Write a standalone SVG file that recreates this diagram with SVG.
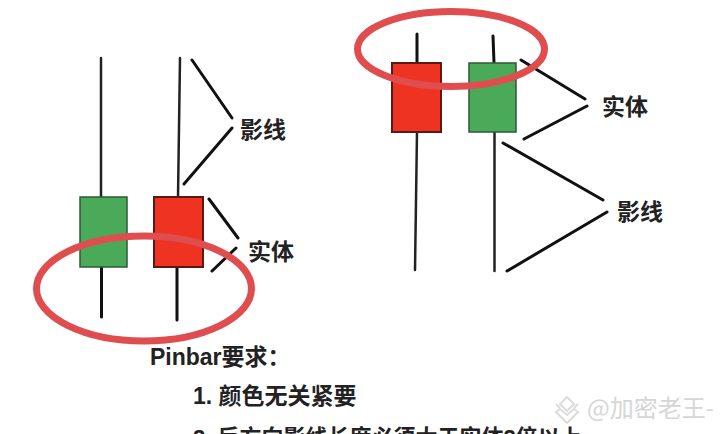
<svg xmlns="http://www.w3.org/2000/svg" width="720" height="434" viewBox="0 0 720 434">
<style>
text{font-family:"Liberation Sans","Noto Sans CJK SC",sans-serif;fill:#222;font-weight:bold}
.lbl{font-size:23px}
.req{font-size:22px}
.req1{font-size:23px}
.w{fill:none;stroke:#111;stroke-width:3;stroke-linecap:round}
.t{fill:none;stroke:#222;stroke-width:2.500;stroke-linecap:round}
.g{fill:#4aaa5a;stroke:#2c5a38;stroke-width:1.5}
.r{fill:#ee3322;stroke:#5a1a14;stroke-width:2}
.e{fill:none;stroke:#e04d4f;stroke-width:7}
.m{font-family:"Noto Sans CJK SC",sans-serif;font-weight:normal;font-size:24px;fill:#d6d6d6}
.i{fill:none;stroke:#dcdcdc;stroke-width:2}
</style>
<rect width="720" height="434" fill="#fff"/>
<g id="connectors">
<path class="w" d="M192 60L232 118M232 128L184 184M209 199L238 238M236 248L212 271"/>
<path class="w" d="M521 60L585 99M587 106L524 139M503 143L603 200M607 212L507 271"/>
</g>
<g id="candle-left-green">
<path class="t" d="M101 58V197"/>
<path class="w" d="M101.500 267V317"/>
<rect class="g" x="80" y="197" width="47" height="70"/>
</g>
<g id="candle-left-red">
<path class="t" d="M180 58L178 197"/>
<path class="w" d="M177 267V320"/>
<rect class="r" x="154" y="197" width="49" height="70"/>
</g>
<g id="candle-right-red">
<path class="w" d="M417 34V63"/>
<path class="t" d="M417 132L415 270"/>
<rect class="r" x="392" y="63" width="49" height="69"/>
</g>
<g id="candle-right-green">
<path class="w" d="M493 36L494 63"/>
<path class="t" d="M494.500 132L494.500 271"/>
<rect class="g" x="469" y="63" width="47" height="69"/>
</g>
<g id="ellipse-left"><ellipse class="e" cx="144" cy="288.500" rx="107.500" ry="52.500"/></g>
<g id="ellipse-right"><ellipse class="e" cx="451" cy="49" rx="93.500" ry="37.500"/></g>
<g id="label-shadow-left"><text class="lbl" x="240" y="138">影线</text></g>
<g id="label-body-left"><text class="lbl" x="248" y="260">实体</text></g>
<g id="label-body-right"><text class="lbl" x="602" y="115">实体</text></g>
<g id="label-shadow-right"><text class="lbl" x="617" y="220">影线</text></g>
<g id="requirements">
<text class="req1" x="150" y="365">Pinbar要求：</text>
<text class="req1" x="193" y="404">1. 颜色无关紧要</text>
<text class="req" x="193" y="445">2. 反方向影线长度必须大于实体2倍以上</text>
</g>
<g id="watermark">
<path class="i" d="M567 397L574 404L567 411L560 404ZM556 404L560 408M578 404L574 408M567 415L560 409L556 412L567 423L578 412L574 409Z"/>
<text class="m" x="587" y="417">@加密老王-</text>
</g>
</svg>
